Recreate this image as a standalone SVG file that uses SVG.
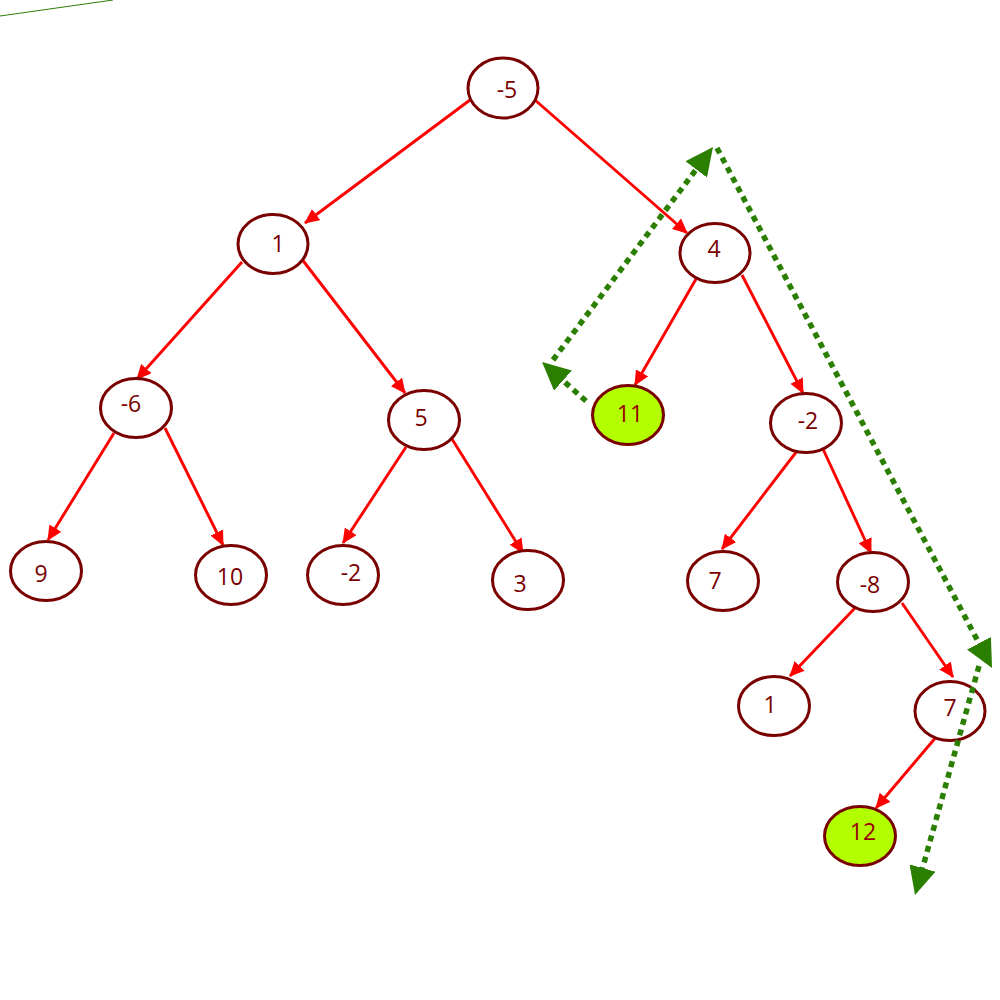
<svg xmlns="http://www.w3.org/2000/svg" width="1000" height="1000" viewBox="0 0 1000 1000">
<style>
.node ellipse{fill:#ffffff;stroke:#7a0000;stroke-width:3}
.node.hl ellipse{fill:#b3ff00}
.node text{font-family:"Open Sans","Liberation Sans",sans-serif;font-size:23px;fill:#7a0000;text-anchor:middle}
.node.hl text{fill:#990000}
.edge{stroke:#ff0000;stroke-width:2.9;fill:none;marker-end:url(#ra)}
.trace{stroke:#2b7f00;stroke-width:5.5;stroke-dasharray:6 5;fill:none;marker-end:url(#ga)}
</style>
<defs>
<marker id="ra" markerUnits="userSpaceOnUse" markerWidth="15" markerHeight="14" refX="14" refY="7" orient="auto">
<path d="M0,0 L15,7 L0,14 z" fill="#ff0000"/>
</marker>
<marker id="ga" markerUnits="userSpaceOnUse" markerWidth="28" markerHeight="27" refX="14" refY="13.5" orient="auto">
<path d="M0,0 L28,13.5 L0,27 z" fill="#2b7f00"/>
</marker>
</defs>
<rect width="1000" height="1000" fill="#ffffff"/>
<line x1="0" y1="16" x2="113" y2="0" stroke="#2b7f00" stroke-width="1"/>
<g id="connectors">
<line class="edge" x1="470" y1="100" x2="305" y2="223"/>
<line class="edge" x1="535" y1="100" x2="687" y2="233"/>
<line class="edge" x1="242" y1="262" x2="137" y2="379"/>
<line class="edge" x1="301" y1="258" x2="405" y2="393"/>
<line class="edge" x1="696" y1="279" x2="635" y2="385"/>
<line class="edge" x1="742" y1="275" x2="803" y2="393"/>
<line class="edge" x1="114" y1="433" x2="48" y2="540"/>
<line class="edge" x1="165" y1="428" x2="223" y2="545"/>
<line class="edge" x1="406" y1="447" x2="343" y2="543"/>
<line class="edge" x1="452" y1="439" x2="523" y2="553"/>
<line class="edge" x1="797" y1="451" x2="722" y2="549"/>
<line class="edge" x1="823" y1="449" x2="871" y2="553"/>
<line class="edge" x1="855" y1="608" x2="790" y2="676"/>
<line class="edge" x1="902" y1="603" x2="953" y2="677"/>
<line class="edge" x1="937" y1="736" x2="876" y2="808"/>
</g>
<g id="n_m5" class="node"><ellipse cx="503" cy="88" rx="35" ry="30"/><text x="507" y="98">-5</text></g>
<g id="n_1" class="node"><ellipse cx="273" cy="244" rx="35" ry="29.5"/><text x="278" y="252">1</text></g>
<g id="n_4" class="node"><ellipse cx="715" cy="253" rx="35" ry="29.5"/><text x="714" y="257">4</text></g>
<g id="n_m6" class="node"><ellipse cx="136" cy="408" rx="35.5" ry="29.5"/><text x="131" y="412">-6</text></g>
<g id="n_5" class="node"><ellipse cx="424" cy="420" rx="35.5" ry="29.5"/><text x="421" y="426">5</text></g>
<g id="n_11" class="node hl"><ellipse cx="628" cy="415" rx="35.5" ry="29.5"/><text x="630" y="422">11</text></g>
<g id="n_m2" class="node"><ellipse cx="806" cy="423" rx="35.5" ry="29.5"/><text x="808" y="429">-2</text></g>
<g id="n_9" class="node"><ellipse cx="46" cy="571" rx="35.5" ry="29.5"/><text x="41" y="582">9</text></g>
<g id="n_10" class="node"><ellipse cx="231" cy="575" rx="35.5" ry="29.5"/><text x="230" y="585">10</text></g>
<g id="n_m2b" class="node"><ellipse cx="343" cy="575" rx="35.5" ry="29.5"/><text x="351" y="581">-2</text></g>
<g id="n_3" class="node"><ellipse cx="528" cy="580" rx="35.5" ry="29.5"/><text x="520" y="592">3</text></g>
<g id="n_7a" class="node"><ellipse cx="723" cy="581" rx="35.5" ry="29.5"/><text x="715" y="589">7</text></g>
<g id="n_m8" class="node"><ellipse cx="873" cy="582" rx="35.5" ry="29.5"/><text x="870" y="593">-8</text></g>
<g id="n_1b" class="node"><ellipse cx="774" cy="706" rx="35.5" ry="29.5"/><text x="770" y="713">1</text></g>
<g id="n_7b" class="node"><ellipse cx="950" cy="711" rx="35" ry="29.5"/><text x="950" y="716">7</text></g>
<g id="n_12" class="node hl"><ellipse cx="860" cy="836" rx="35.5" ry="29.5"/><text x="863" y="840">12</text></g>
<g id="traversal">
<line class="trace" x1="586" y1="401" x2="552.5" y2="371.3"/>
<line class="trace" x1="553" y1="360" x2="704.6" y2="158.2"/>
<line class="trace" x1="717" y1="148" x2="985.5" y2="655.6"/>
<line class="trace" x1="979" y1="666" x2="918.8" y2="881.5"/>
</g>
</svg>
